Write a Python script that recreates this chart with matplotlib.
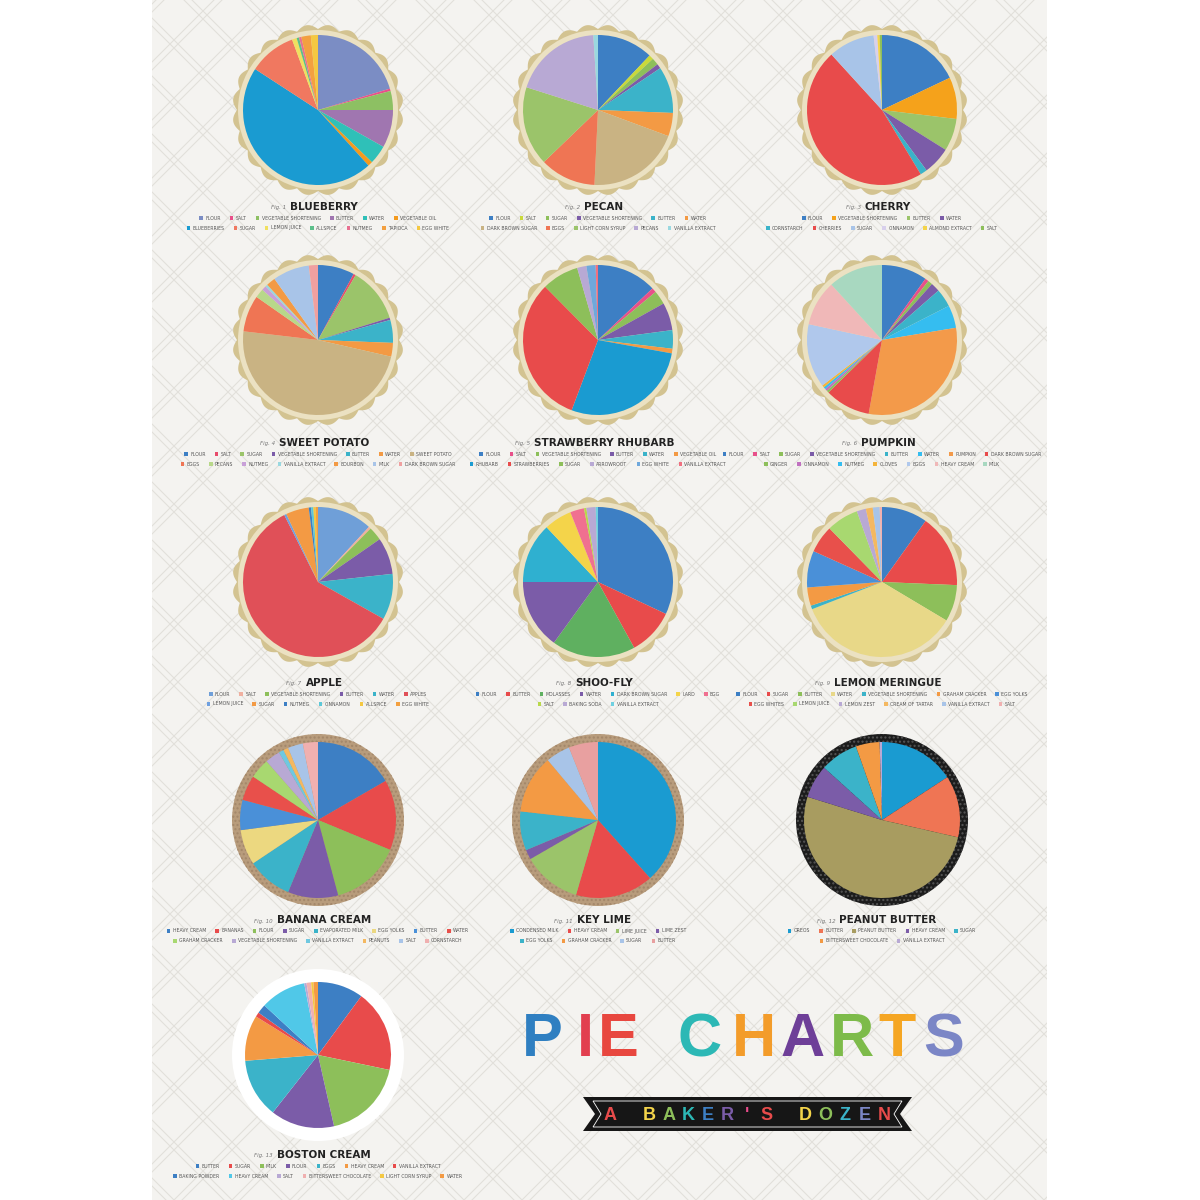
import numpy as np
import matplotlib.pyplot as plt
from matplotlib.patches import Rectangle, Circle, Polygon

# ---- data -------------------------------------------------------------
titles = ['BLUEBERRY', 'PECAN', 'CHERRY', 'SWEET POTATO', 'STRAWBERRY RHUBARB',
          'PUMPKIN', 'APPLE', 'SHOO-FLY', 'LEMON MERINGUE', 'BANANA CREAM',
          'KEY LIME', 'PEANUT BUTTER', 'BOSTON CREAM']

blueberry_names = ['Flour', 'Salt', 'Vegetable Shortening', 'Butter', 'Water', 'Vegetable Oil',
                   'Blueberries', 'Sugar', 'Lemon Juice', 'Allspice', 'Nutmeg', 'Tapioca', 'Egg White']
blueberry_vals = [20, 0.5, 4, 8, 4, 1, 45, 10, 1, 0.5, 0.5, 2, 1.5]
blueberry_cols = ['#7b8dc4', '#e8508a', '#8dc063', '#a076b0', '#2fc0b8', '#f39a1e',
                  '#1a9bd1', '#f07860', '#f0e060', '#5cbf8a', '#e87090', '#f3a040', '#f4c842']

pecan_names = ['Flour', 'Salt', 'Sugar', 'Vegetable Shortening', 'Butter', 'Water',
               'Dark Brown Sugar', 'Eggs', 'Light Corn Syrup', 'Pecans', 'Vanilla Extract']
pecan_vals = [12, 1, 1.5, 1, 10, 5, 20, 12, 17, 19, 1]
pecan_cols = ['#3d7fc4', '#c9d93a', '#8dbf5a', '#7b5ca8', '#3bb3c9', '#f39a44',
              '#c9b383', '#ef7554', '#9bc46a', '#b8a9d4', '#9ad8e0']

cherry_names = ['Flour', 'Vegetable Shortening', 'Butter', 'Water',
                'Cornstarch', 'Cherries', 'Sugar', 'Cinnamon', 'Almond Extract', 'Salt']
cherry_vals = [18, 9, 7, 6, 1.5, 47, 10, 0.8, 0.5, 0.5]
cherry_cols = ['#3d7fc4', '#f5a21b', '#9bc46a', '#7b5ca8',
               '#3bb3c9', '#e84b4b', '#a8c4e8', '#d8d0ec', '#f4d44a', '#8dbf5a']

sweet_names = ['Flour', 'Salt', 'Sugar', 'Vegetable Shortening', 'Butter', 'Water', 'Sweet Potato',
               'Eggs', 'Pecans', 'Nutmeg', 'Vanilla Extract', 'Bourbon', 'Milk', 'Dark Brown Sugar']
sweet_vals = [8, 0.5, 12, 0.5, 5, 3, 49, 8, 2, 1, 0.5, 2, 8, 2]
sweet_cols = ['#3d7fc4', '#e84b6b', '#9bc46a', '#7b5ca8', '#3bb3c9', '#f39a44', '#c9b383',
              '#ef7554', '#b8d88a', '#c8a0d8', '#9ad8e0', '#f39a44', '#a8c4e8', '#f0a0a0']

straw_names = ['Flour', 'Salt', 'Vegetable Shortening', 'Butter', 'Water', 'Vegetable Oil',
               'Rhubarb', 'Strawberries', 'Sugar', 'Arrowroot', 'Egg White', 'Vanilla Extract']
straw_vals = [13, 1, 3, 6, 4, 1, 28, 32, 8, 2, 2, 0.5]
straw_cols = ['#3d7fc4', '#e8508a', '#8dbf5a', '#7b5ca8', '#3bb3c9', '#f39a44',
              '#1a9bd1', '#e84b4b', '#8dbf5a', '#b8a9d4', '#6fa8dc', '#f07080']

pumpkin_names = ['Flour', 'Salt', 'Sugar', 'Vegetable Shortening', 'Butter', 'Water', 'Pumpkin',
                 'Dark Brown Sugar', 'Ginger', 'Cinnamon', 'Nutmeg', 'Cloves', 'Eggs', 'Heavy Cream', 'Milk']
pumpkin_vals = [10, 0.8, 1, 2, 4, 5, 31, 10, 0.5, 0.5, 0.5, 0.5, 14, 10, 12]
pumpkin_cols = ['#3d7fc4', '#e8508a', '#8dbf5a', '#7b5ca8', '#3bb3c9', '#35bdf0', '#f39a4a',
                '#e84b4b', '#8dbf5a', '#c070c0', '#35bdf0', '#f4b43a', '#b0c8ec', '#f0b8b8', '#a8d8c0']

apple_names = ['Flour', 'Salt', 'Vegetable Shortening', 'Butter', 'Water', 'Apples',
               'Lemon Juice', 'Sugar', 'Nutmeg', 'Cinnamon', 'Allspice', 'Egg White']
apple_vals = [12, 0.5, 3, 8, 10, 60, 0.5, 5, 0.5, 0.5, 0.5, 0.5]
apple_cols = ['#6f9fd8', '#f0b0a0', '#8dbf5a', '#7b5ca8', '#3bb3c9', '#e05058',
              '#6fa0e0', '#f39a44', '#3d7fc4', '#5cc8d8', '#f4c842', '#f3a040']

shoo_names = ['Flour', 'Butter', 'Molasses', 'Water', 'Dark Brown Sugar', 'Lard', 'Egg',
              'Salt', 'Baking Soda', 'Vanilla Extract']
shoo_vals = [32, 10, 18, 15, 13, 6, 3, 0.5, 2, 0.5]
shoo_cols = ['#3d7fc4', '#e84b4b', '#5fb060', '#7b5ca8', '#2fb0d0', '#f4d44a', '#f07090',
             '#b8d84a', '#b8a9d4', '#6fd0e0']

lemon_names = ['Flour', 'Sugar', 'Butter', 'Water', 'Vegetable Shortening', 'Graham Cracker', 'Egg Yolks',
               'Egg Whites', 'Lemon Juice', 'Lemon Zest', 'Cream of Tartar', 'Vanilla Extract', 'Salt']
lemon_vals = [10, 16, 8, 36, 0.8, 4, 8, 6, 7, 2, 1.5, 1.5, 0.5]
lemon_cols = ['#3d7fc4', '#e84b4b', '#8dbf5a', '#e8d888', '#3bb3c9', '#f39a44', '#4a90d8',
              '#e8504b', '#a8d870', '#b8a9d4', '#f4b860', '#a8c4e8', '#f0b0b0']

banana_names = ['Heavy Cream', 'Bananas', 'Flour', 'Sugar', 'Evaporated Milk', 'Egg Yolks', 'Butter',
                'Water', 'Graham Cracker', 'Vegetable Shortening', 'Vanilla Extract', 'Peanuts', 'Salt',
                'Cornstarch']
banana_vals = [16, 14, 14, 10, 9, 7, 6, 5, 4, 3, 1, 1, 3, 3]
banana_cols = ['#3d7fc4', '#e84b4b', '#8dbf5a', '#7b5ca8', '#3bb3c9', '#ecd880', '#4a90d8',
               '#e8504b', '#a8d870', '#b8a9d4', '#6fc8e0', '#f4b860', '#a8c4e8', '#f0b0b0']

keylime_names = ['Condensed Milk', 'Heavy Cream', 'Lime Juice', 'Lime Zest',
                 'Egg Yolks', 'Graham Cracker', 'Sugar', 'Butter']
keylime_vals = [38, 16, 12, 2, 8, 12, 5, 6]
keylime_cols = ['#1a9bd1', '#e84b4b', '#9bc46a', '#7b5ca8', '#3bb3c9', '#f39a44', '#a8c4e8', '#e8a0a0']

peanut_names = ['Oreos', 'Butter', 'Peanut Butter', 'Heavy Cream', 'Sugar',
                'Bittersweet Chocolate', 'Vanilla Extract']
peanut_vals = [16, 13, 52, 7, 8, 5, 0.5]
peanut_cols = ['#1a9bd1', '#ef7554', '#a89c60', '#7b5ca8', '#3bb3c9', '#f39a44', '#b8a9d4']

boston_names = ['Butter', 'Sugar', 'Milk', 'Flour', 'Eggs', 'Heavy Cream', 'Vanilla Extract',
                'Baking Powder', 'Heavy Cream', 'Salt', 'Bittersweet Chocolate', 'Light Corn Syrup', 'Water']
boston_vals = [10, 18, 18, 14, 13, 10, 1, 2, 10, 0.5, 1, 0.5, 1]
boston_cols = ['#3d7fc4', '#e84b4b', '#8dbf5a', '#7b5ca8', '#3bb3c9', '#f39a44', '#e84b4b',
               '#3d7fc4', '#50c8e8', '#b8a9d4', '#f0b0b0', '#f4c842', '#f39a44']

legend_split = [6, 6, 4, 7, 6, 8, 6, 7, 7, 8, 4, 5, 7]

# ---- layout ------------------------------------------------------------
H = 1200
col_x = [318, 598, 882]
row_y = [110, 340, 582, 820, 1055]
title_y = [207, 443, 683, 920, 1155]

pies = [
    (blueberry_names, blueberry_vals, blueberry_cols),
    (pecan_names, pecan_vals, pecan_cols),
    (cherry_names, cherry_vals, cherry_cols),
    (sweet_names, sweet_vals, sweet_cols),
    (straw_names, straw_vals, straw_cols),
    (pumpkin_names, pumpkin_vals, pumpkin_cols),
    (apple_names, apple_vals, apple_cols),
    (shoo_names, shoo_vals, shoo_cols),
    (lemon_names, lemon_vals, lemon_cols),
    (banana_names, banana_vals, banana_cols),
    (keylime_names, keylime_vals, keylime_cols),
    (peanut_names, peanut_vals, peanut_cols),
    (boston_names, boston_vals, boston_cols),
]


def Y(y):
    return H - y


fig = plt.figure(figsize=(12, 12), dpi=100)
ax = fig.add_axes([0, 0, 1, 1])
fig.patch.set_facecolor('white')

# poster background + lattice
poster = Rectangle((152, 0), 895, 1200, facecolor='#f4f3f0', edgecolor='none', zorder=0)
ax.add_patch(poster)
s = 58
for c in np.arange(-1400, 2600, s):
    for off in (0, 8):
        xs = np.array([0, 1200])
        l1, = ax.plot(xs, xs + c + off, color='#e2e0db', lw=0.8, zorder=0.5)
        l2, = ax.plot(xs, -xs + c + off, color='#e2e0db', lw=0.8, zorder=0.5)
        l1.set_clip_path(poster)
        l2.set_clip_path(poster)

renderer = fig.canvas.get_renderer()


def crust(cx, cy, kind):
    if kind == 'scallop':
        th = np.linspace(0, 2 * np.pi, 1000)
        r = 81 + 4.5 * np.abs(np.sin(12 * th))
        ax.add_patch(Polygon(np.c_[cx + r * np.cos(th), cy + r * np.sin(th)],
                             closed=True, facecolor='#d3c391', edgecolor='none', zorder=1))
        ax.add_patch(Circle((cx, cy), 80, facecolor='#ebe1c2', edgecolor='none', zorder=1.1))
        return 75
    if kind == 'ring':
        ax.add_patch(Circle((cx, cy), 86, facecolor='#b89c7c', edgecolor='#a3876a',
                            hatch='....', lw=0, zorder=1))
        return 78
    if kind == 'dark':
        ax.add_patch(Circle((cx, cy), 86, facecolor='#1c1c1c', edgecolor='#555555',
                            hatch='....', lw=0, zorder=1))
        return 78
    ax.add_patch(Circle((cx, cy), 86, facecolor='white', edgecolor='none', zorder=1))
    return 73


def legend_row(items, cx, y):
    texts = []
    widths = []
    for name, col in items:
        t = ax.text(0, Y(y), name.upper(), fontsize=3.3, color='#555555',
                    va='center', ha='left', zorder=3)
        texts.append(t)
        widths.append(t.get_window_extent(renderer).width)
    gap = 9
    total = sum(w + 6 for w in widths) + gap * (len(items) - 1)
    x = cx - total / 2
    for (name, col), t, w in zip(items, texts, widths):
        ax.add_patch(Rectangle((x, Y(y) - 1.8), 3.6, 3.6, facecolor=col, edgecolor='none', zorder=3))
        t.set_x(x + 6)
        x += w + 6 + gap


for i, (names, vals, cols) in enumerate(pies):
    cx = col_x[i % 3]
    cy = row_y[i // 3]
    ty = title_y[i // 3]
    kind = 'scallop' if i < 9 else ['ring', 'ring', 'dark', 'white'][i - 9]
    r = crust(cx, Y(cy), kind)
    wedges, _ = ax.pie(vals, colors=cols, startangle=90, counterclock=False,
                       center=(cx, Y(cy)), radius=r, frame=True,
                       wedgeprops=dict(linewidth=0))
    for w in wedges:
        w.set_zorder(2)
    # title
    t = ax.text(cx + 6, Y(ty), titles[i], fontsize=7.5, fontweight='bold', color='#222222',
                ha='center', va='center', family='DejaVu Sans', zorder=3)
    tw = t.get_window_extent(renderer).width
    ax.text(cx + 6 - tw / 2 - 4, Y(ty) - 1, 'Fig. %d' % (i + 1), fontsize=4, style='italic',
            color='#777777', ha='right', va='center', zorder=3)
    k = legend_split[i]
    items = list(zip(names, cols))
    legend_row(items[:k], cx, ty + 11)
    legend_row(items[k:], cx, ty + 21)

# big title
title_letters = ['P', 'I', 'E', 'C', 'H', 'A', 'R', 'T', 'S']
title_x = [542, 585, 618, 700, 754, 803, 852, 897, 944]
title_cols = ['#2f7fc1', '#e23f4f', '#e8473f', '#2cb8b5', '#f39c2a', '#6e3f98',
              '#7dbb4a', '#f5a623', '#7b86c6']
for ch, x, c in zip(title_letters, title_x, title_cols):
    ax.text(x, Y(1041), ch, fontsize=44, color=c, ha='center', va='center',
            family='Liberation Sans', fontweight='bold', zorder=3)

# ribbon
rx0, rx1, ry0, ry1, notch = 583, 912, 1097, 1131, 12
ym = (ry0 + ry1) / 2
rib = [(rx0, Y(ry0)), (rx1, Y(ry0)), (rx1 - notch, Y(ym)), (rx1, Y(ry1)),
       (rx0, Y(ry1)), (rx0 + notch, Y(ym))]
ax.add_patch(Polygon(rib, closed=True, facecolor='#161616', edgecolor='none', zorder=3))
inner = [(rx0 + 10, Y(ry0 + 4)), (rx1 - 10, Y(ry0 + 4)), (rx1 - notch - 6, Y(ym)),
         (rx1 - 10, Y(ry1 - 4)), (rx0 + 10, Y(ry1 - 4)), (rx0 + notch + 6, Y(ym))]
ax.add_patch(Polygon(inner, closed=True, facecolor='none', edgecolor='white', lw=0.6, zorder=3.1))
sub = "A BAKER'S DOZEN"
sub_cols = ['#e84b4b', '#f39a2a', '#f4d44a', '#8dbf5a', '#2cb8b5', '#3d7fc4', '#7b5ca8',
            '#e84b8a', '#e84b4b', '#f39a2a', '#f4d44a', '#8dbf5a', '#3bb3c9', '#7b86c6', '#e84b4b']
n = len(sub)
xs = np.linspace(610, 884, n)
for ch, x, c in zip(sub, xs, sub_cols):
    ax.text(x, Y(ym + 1), ch, fontsize=13, color=c, ha='center', va='center',
            family='Liberation Sans', fontweight='bold', zorder=4)

ax.set_xlim(0, 1200)
ax.set_ylim(0, 1200)
ax.set_aspect('equal')
ax.axis('off')
fig.savefig('out.png', dpi=100, facecolor='white')
